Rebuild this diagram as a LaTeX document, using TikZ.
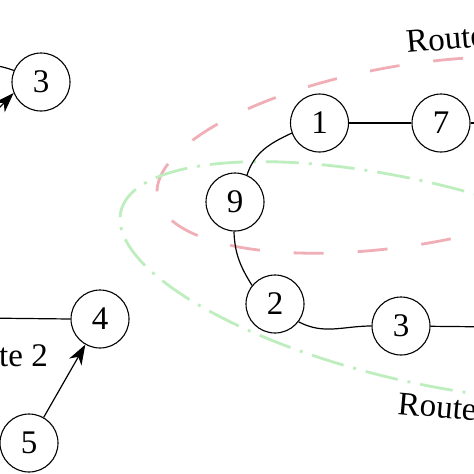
\documentclass[tikz,border=0pt]{standalone}
\usepackage{fontspec}
\setmainfont{Liberation Serif}
\usetikzlibrary{arrows.meta}
\definecolor{routered}{RGB}{240,175,182}
\definecolor{routegreen}{RGB}{190,238,190}
\begin{document}
\begin{tikzpicture}[x=1pt,y=1pt,
  vtx/.style={circle,draw,fill=white,line width=1.1pt,minimum size=58pt,inner sep=0pt,font=\fontsize{33}{39}\selectfont},
  edge/.style={line width=1.2pt},
  arr/.style={line width=1.2pt,-{Stealth[length=20pt,width=14pt,inset=6pt]}},
  lbl/.style={font=\fontsize{33}{39}\selectfont,inner sep=0pt},
  redroute/.style={routered,line width=2.8pt,dash pattern=on 30pt off 34pt},
  greenroute/.style={routegreen,line width=2.8pt,dash pattern=on 33pt off 10pt on 3pt off 10pt}]
\useasboundingbox (0,0) rectangle (474,-474);
\clip (0,0) rectangle (474,-474);
\fill[white] (0,0) rectangle (474,-474);
% route outlines
\draw[redroute] plot[domain=0:360,samples=200,smooth] ({410+253*cos(\x)},{-(155-37*cos(\x)+91*sin(\x))});
\draw[greenroute] plot[domain=0:360,samples=200,smooth] ({414+294*cos(\x)},{-(281+62*cos(\x)+102*sin(\x))});
% nodes
\node[vtx] (a3) at (41,-82) {3};
\node[vtx] (n1) at (319.5,-123) {1};
\node[vtx] (n7) at (441,-123) {7};
\node[vtx] (n9) at (235,-202) {9};
\node[vtx] (n2) at (275,-304) {2};
\node[vtx] (n3) at (401,-326) {3};
\node[vtx] (n4) at (100,-319) {4};
\node[vtx] (n5) at (29,-443) {5};
% free ends outside the frame
\coordinate (cA) at (-30,-63);
\coordinate (cB) at (-34,-142);
\coordinate (cC) at (-20,-318);
\coordinate (cD) at (500,-123);
\coordinate (cE) at (500,-327);
% connectors
\draw[edge] (cA) to[out=-5,in=160] (a3.157);
\draw[arr] (cB) -- (a3.202);
\draw[edge] (n9.66) to[out=72,in=205] (n1.200);
\draw[edge] (n1) -- (n7);
\draw[edge] (n7) -- (cD);
\draw[edge] (n9.268) to[out=-88,in=122] (n2.141);
\draw[edge] (n2.-37) to[out=-28,in=180] (n3.west);
\draw[edge] (n3) -- (cE);
\draw[edge] (cC) -- (n4.west);
\draw[arr] (n5) -- (n4);
% labels
\node[lbl,anchor=base west,rotate=5] (l1) at (407,-53) {Route};
\node[lbl,anchor=base west,rotate=-5] (l3) at (397,-414) {Route};
\node[lbl,anchor=base east] (l2) at (48,-366) {Route 2};
\end{tikzpicture}
\end{document}
